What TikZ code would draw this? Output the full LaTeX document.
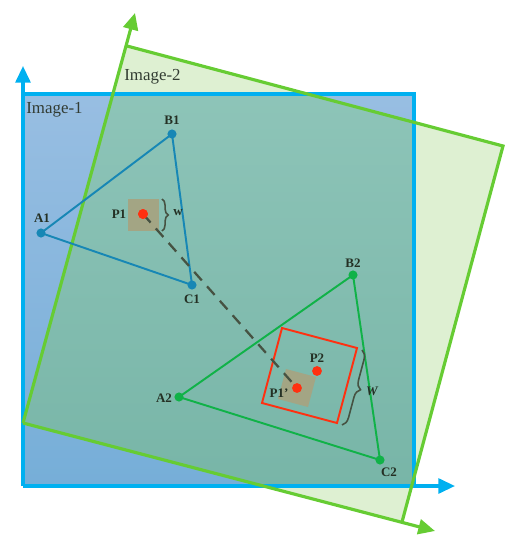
\documentclass[tikz,border=0pt]{standalone}
\usepackage{fontspec}
\setmainfont{Liberation Serif}
\usetikzlibrary{arrows.meta,decorations.pathreplacing}
\definecolor{blueedge}{RGB}{0,176,240}
\definecolor{bluetop}{RGB}{152,190,226}
\definecolor{bluebot}{RGB}{118,174,216}
\definecolor{greenedge}{RGB}{102,204,51}
\definecolor{greenfill}{RGB}{222,240,210}
\definecolor{ovtop}{RGB}{144,198,186}
\definecolor{ovbot}{RGB}{118,180,166}
\definecolor{tri1}{RGB}{23,135,181}
\definecolor{tri2}{RGB}{16,178,72}
\definecolor{redsq}{RGB}{255,48,16}
\definecolor{olive}{RGB}{163,165,132}
\definecolor{labtext}{RGB}{36,48,36}
\definecolor{dashc}{RGB}{70,82,66}
\tikzset{
  axisarrow/.style={line width=1.8pt,-{Triangle[length=9.5pt,width=8.5pt]}},
  rectedge/.style={line width=1.8pt},
  tri1line/.style={tri1,line width=1.1pt},
  tri2line/.style={tri2,line width=1.1pt},
  vdot/.style={circle,inner sep=0pt,minimum size=5.2pt},
  reddot/.style={circle,fill=redsq,inner sep=0pt,minimum size=5.6pt},
  ptlab/.style={font=\fontsize{7.4}{8}\selectfont\bfseries,text=labtext,inner sep=0pt},
  imglab/.style={font=\fontsize{9.6}{11}\selectfont,text=labtext!85!gray,inner sep=0pt,anchor=west},
  bracec/.style={decorate,draw=dashc,line width=0.9pt}
}
\begin{document}
\begin{tikzpicture}[x=0.02cm,y=-0.02cm]
\useasboundingbox (0,0) rectangle (513,550);
% blue image-1
\coordinate (O1) at (23,486);
\coordinate (R1TL) at (23,94);
\coordinate (R1TR) at (414,94);
\coordinate (R1BR) at (414,486);
\coordinate (Ax1) at (23,66);
\coordinate (Ax2) at (455,486);
% green image-2
\coordinate (G1) at (23,423);
\coordinate (G2) at (402,522);
\coordinate (G3) at (503,146);
\coordinate (G4) at (127,46);
\coordinate (Gup) at (135,13);
\coordinate (Grt) at (435,531);

\shade[top color=bluetop,bottom color=bluebot] (R1TL) rectangle (R1BR);
\fill[greenfill] (G1) -- (G2) -- (G3) -- (G4) -- cycle;
\begin{scope}
  \clip (R1TL) rectangle (R1BR);
  \shade[top color=ovtop,bottom color=ovbot] (G1) -- (G2) -- (G3) -- (G4) -- cycle;
\end{scope}
\draw[blueedge,rectedge] (R1TL) -- (R1TR) -- (R1BR);
\draw[blueedge,axisarrow] (O1) -- (Ax1);
\draw[blueedge,axisarrow] (O1) -- (Ax2);
\draw[greenedge,rectedge] (G2) -- (G3) -- (G4);
\draw[greenedge,axisarrow] (G1) -- (Gup);
\draw[greenedge,axisarrow] (G1) -- (Grt);

\node[imglab] (im1) at (26,110) {Image-1};
\node[imglab] (im2) at (124,77) {Image-2};

% triangle 1
\coordinate (A1) at (41,233);
\coordinate (B1) at (172,134);
\coordinate (C1) at (192,285);
\draw[tri1line] (A1) -- (B1) -- (C1) -- cycle;
% triangle 2
\coordinate (A2) at (179,397);
\coordinate (B2) at (353,275);
\coordinate (C2) at (380,460);
\draw[tri2line] (A2) -- (B2) -- (C2) -- cycle;

% P1 window
\fill[olive] (128,199) rectangle (159,231);
% P1' window (rotated)
\fill[olive] (286,369) -- (316,377) -- (308,407) -- (278,399) -- cycle;
% red search window
\draw[redsq,line width=1.1pt] (282,328) -- (357,348) -- (337,423) -- (262,403) -- cycle;

% dots
\node[reddot] (P1) at (143,214) {};
\node[reddot] (P1p) at (297,388) {};
\node[reddot] (P2) at (317,371) {};
\draw[dashc,line width=1.3pt,dash pattern=on 6.5pt off 4.5pt] (P1.center) -- (P1p);
\node[reddot] at (P1) {};

\node[vdot,fill=tri1] (dA1) at (A1) {};
\node[vdot,fill=tri1] (dB1) at (B1) {};
\node[vdot,fill=tri1] (dC1) at (C1) {};
\node[vdot,fill=tri2] (dA2) at (A2) {};
\node[vdot,fill=tri2] (dB2) at (B2) {};
\node[vdot,fill=tri2] (dC2) at (C2) {};

% braces
\coordinate (wa) at (162,199);
\coordinate (wb) at (162,231);
\draw[bracec,decoration={brace,amplitude=3.5pt}] (wa) -- (wb);
\coordinate (Wa) at (362,350);
\coordinate (Wb) at (342,425);
\draw[bracec,decoration={brace,amplitude=5pt}] (Wa) -- (Wb);

% labels
\node[ptlab] (lA1) at (42,218) {A1};
\node[ptlab] (lB1) at (172,120) {B1};
\node[ptlab] (lC1) at (192,299) {C1};
\node[ptlab] (lP1) at (119,214) {P1};
\node[ptlab] (lw) at (178,213) {w};
\node[ptlab] (lA2) at (164,398) {A2};
\node[ptlab] (lB2) at (353,263) {B2};
\node[ptlab] (lC2) at (389,472) {C2};
\node[ptlab] (lP2) at (317,358) {P2};
\node[ptlab] (lP1p) at (279,393) {P1'};
\node[ptlab] (lW) at (372,391) {\itshape W};
\end{tikzpicture}
\end{document}
